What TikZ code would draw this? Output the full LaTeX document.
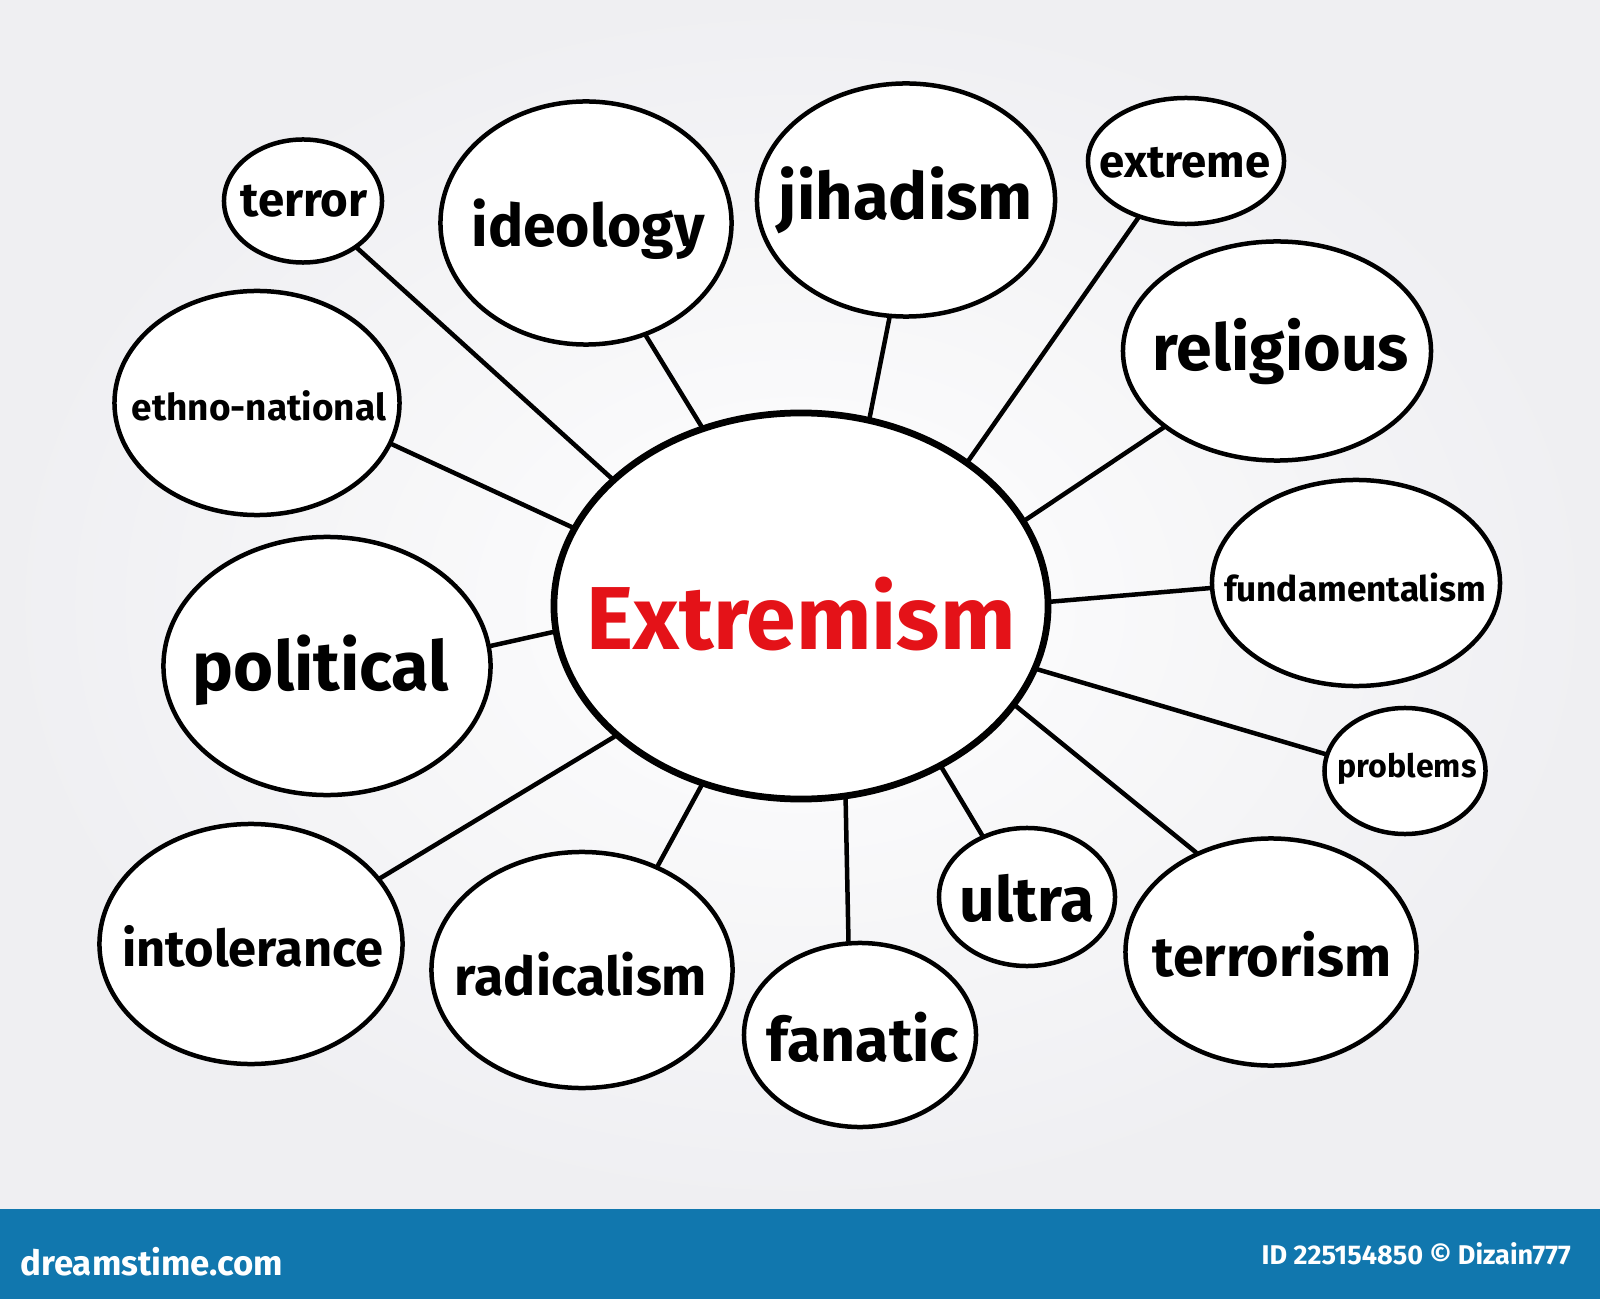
\documentclass[tikz,border=0pt]{standalone}
\usepackage{fontspec}
\setmainfont{Fira Sans}
\usetikzlibrary{shapes.geometric}
\newlength\pxu \setlength\pxu{0.025cm}
\newcommand\fitw[2]{\resizebox{#1\pxu}{!}{#2}}
\definecolor{bannerblue}{RGB}{17,119,174}
\definecolor{exred}{RGB}{228,18,24}
\definecolor{bggray}{RGB}{239,239,242}
\begin{document}
\begin{tikzpicture}[x=0.025cm, y=-0.025cm,
  bub/.style={ellipse, draw=black, line width=3.2pt, fill=white, inner sep=0pt},
  hub/.style={ellipse, draw=black, line width=4.8pt, fill=white, inner sep=0pt},
  link/.style={line width=3.2pt, line cap=round},
  word/.style={inner sep=0pt, font=\bfseries},
  banner/.style={inner sep=0pt, text=white}]
\useasboundingbox (0,0) rectangle (1600,1299);
\shade[inner color=white, outer color=bggray] (0,0) rectangle (1600,1209);
\fill[bannerblue] (0,1209) rectangle (1600,1299);

% bubbles
\node[hub, minimum width=12.35cm, minimum height=9.65cm] (hub) at (801,606) {};
\node[bub, minimum width=3.95cm, minimum height=3.075cm] (terror) at (303,201) {};
\node[bub, minimum width=7.275cm, minimum height=6.075cm] (ideology) at (586,223) {};
\node[bub, minimum width=7.45cm, minimum height=5.825cm] (jihadism) at (906,200) {};
\node[bub, minimum width=4.9cm, minimum height=3.15cm] (extreme) at (1186,161) {};
\node[bub, minimum width=7.7cm, minimum height=5.475cm] (religious) at (1277,351) {};
\node[bub, minimum width=7.2cm, minimum height=5.15cm] (fundamentalism) at (1356,583) {};
\node[bub, minimum width=4.025cm, minimum height=3.15cm] (problems) at (1405,771) {};
\node[bub, minimum width=7.275cm, minimum height=5.675cm] (terrorism) at (1271,952) {};
\node[bub, minimum width=4.4cm, minimum height=3.45cm] (ultra) at (1027,897) {};
\node[bub, minimum width=5.8cm, minimum height=4.6cm] (fanatic) at (860,1035) {};
\node[bub, minimum width=7.525cm, minimum height=5.9cm] (radicalism) at (582,970) {};
\node[bub, minimum width=7.575cm, minimum height=6.0cm] (intolerance) at (251,944) {};
\node[bub, minimum width=8.175cm, minimum height=6.45cm] (political) at (327,666) {};
\node[bub, minimum width=7.125cm, minimum height=5.6cm] (ethno) at (257,403) {};

% connectors
\draw[link] (hub.146.2) -- (terror.-41.1);
\draw[link] (hub.119.5) -- (ideology.-62.4);
\draw[link] (hub.70.6) -- (jihadism.-98.3);
\draw[link] (hub.41.1) -- (extreme.-130.9);
\draw[link] (hub.21.8) -- (religious.-146.8);
\draw[link] (hub.1.9) -- (fundamentalism.182.8);
\draw[link] (hub.-15.2) -- (problems.168.3);
\draw[link] (hub.-25.8) -- (terrorism.127.9);
\draw[link] (hub.-49.0) -- (ultra.126.7);
\draw[link] (hub.-77.7) -- (fanatic.97.4);
\draw[link] (hub.-119.0) -- (radicalism.54.7);
\draw[link] (hub.-145.4) -- (intolerance.27.9);
\draw[link] (hub.186.5) -- (political.7.5);
\draw[link] (hub.161.5) -- (ethno.-17.5);

% words
\node[word, text=exred] (hub-t) at (801,614) {\fitw{429}{Extremism}};
\node[word] (terror-t) at (304,201) {\fitw{127}{terror}};
\node[word] (ideology-t) at (588,229) {\fitw{233}{ideology}};
\node[word] (jihadism-t) at (906,200) {\fitw{254}{jihadism}};
\node[word] (extreme-t) at (1185,163) {\fitw{171}{extreme}};
\node[word] (religious-t) at (1281,352) {\fitw{256}{religious}};
\node[word] (fundamentalism-t) at (1355,588) {\fitw{262}{fundamentalism}};
\node[word] (problems-t) at (1407,769) {\fitw{139}{problems}};
\node[word] (terrorism-t) at (1272,954) {\fitw{239}{terrorism}};
\node[word] (ultra-t) at (1027,898) {\fitw{135}{ultra}};
\node[word] (fanatic-t) at (863,1037) {\fitw{192}{fanatic}};
\node[word] (radicalism-t) at (581,974) {\fitw{252}{radicalism}};
\node[word] (intolerance-t) at (253,946) {\fitw{261}{intolerance}};
\node[word] (political-t) at (321,670) {\fitw{256}{political}};
\node[word] (ethno-t) at (259,406) {\fitw{254}{ethno-national}};

% banner
\node[banner, anchor=west, font=\bfseries] (logo) at (20,1262) {\fitw{263}{dreamstime.com}};
\node[banner, anchor=east, font=\bfseries] (credit) at (1571,1254) {\fitw{309}{ID 225154850 © Dizain777}};
\end{tikzpicture}
\end{document}
